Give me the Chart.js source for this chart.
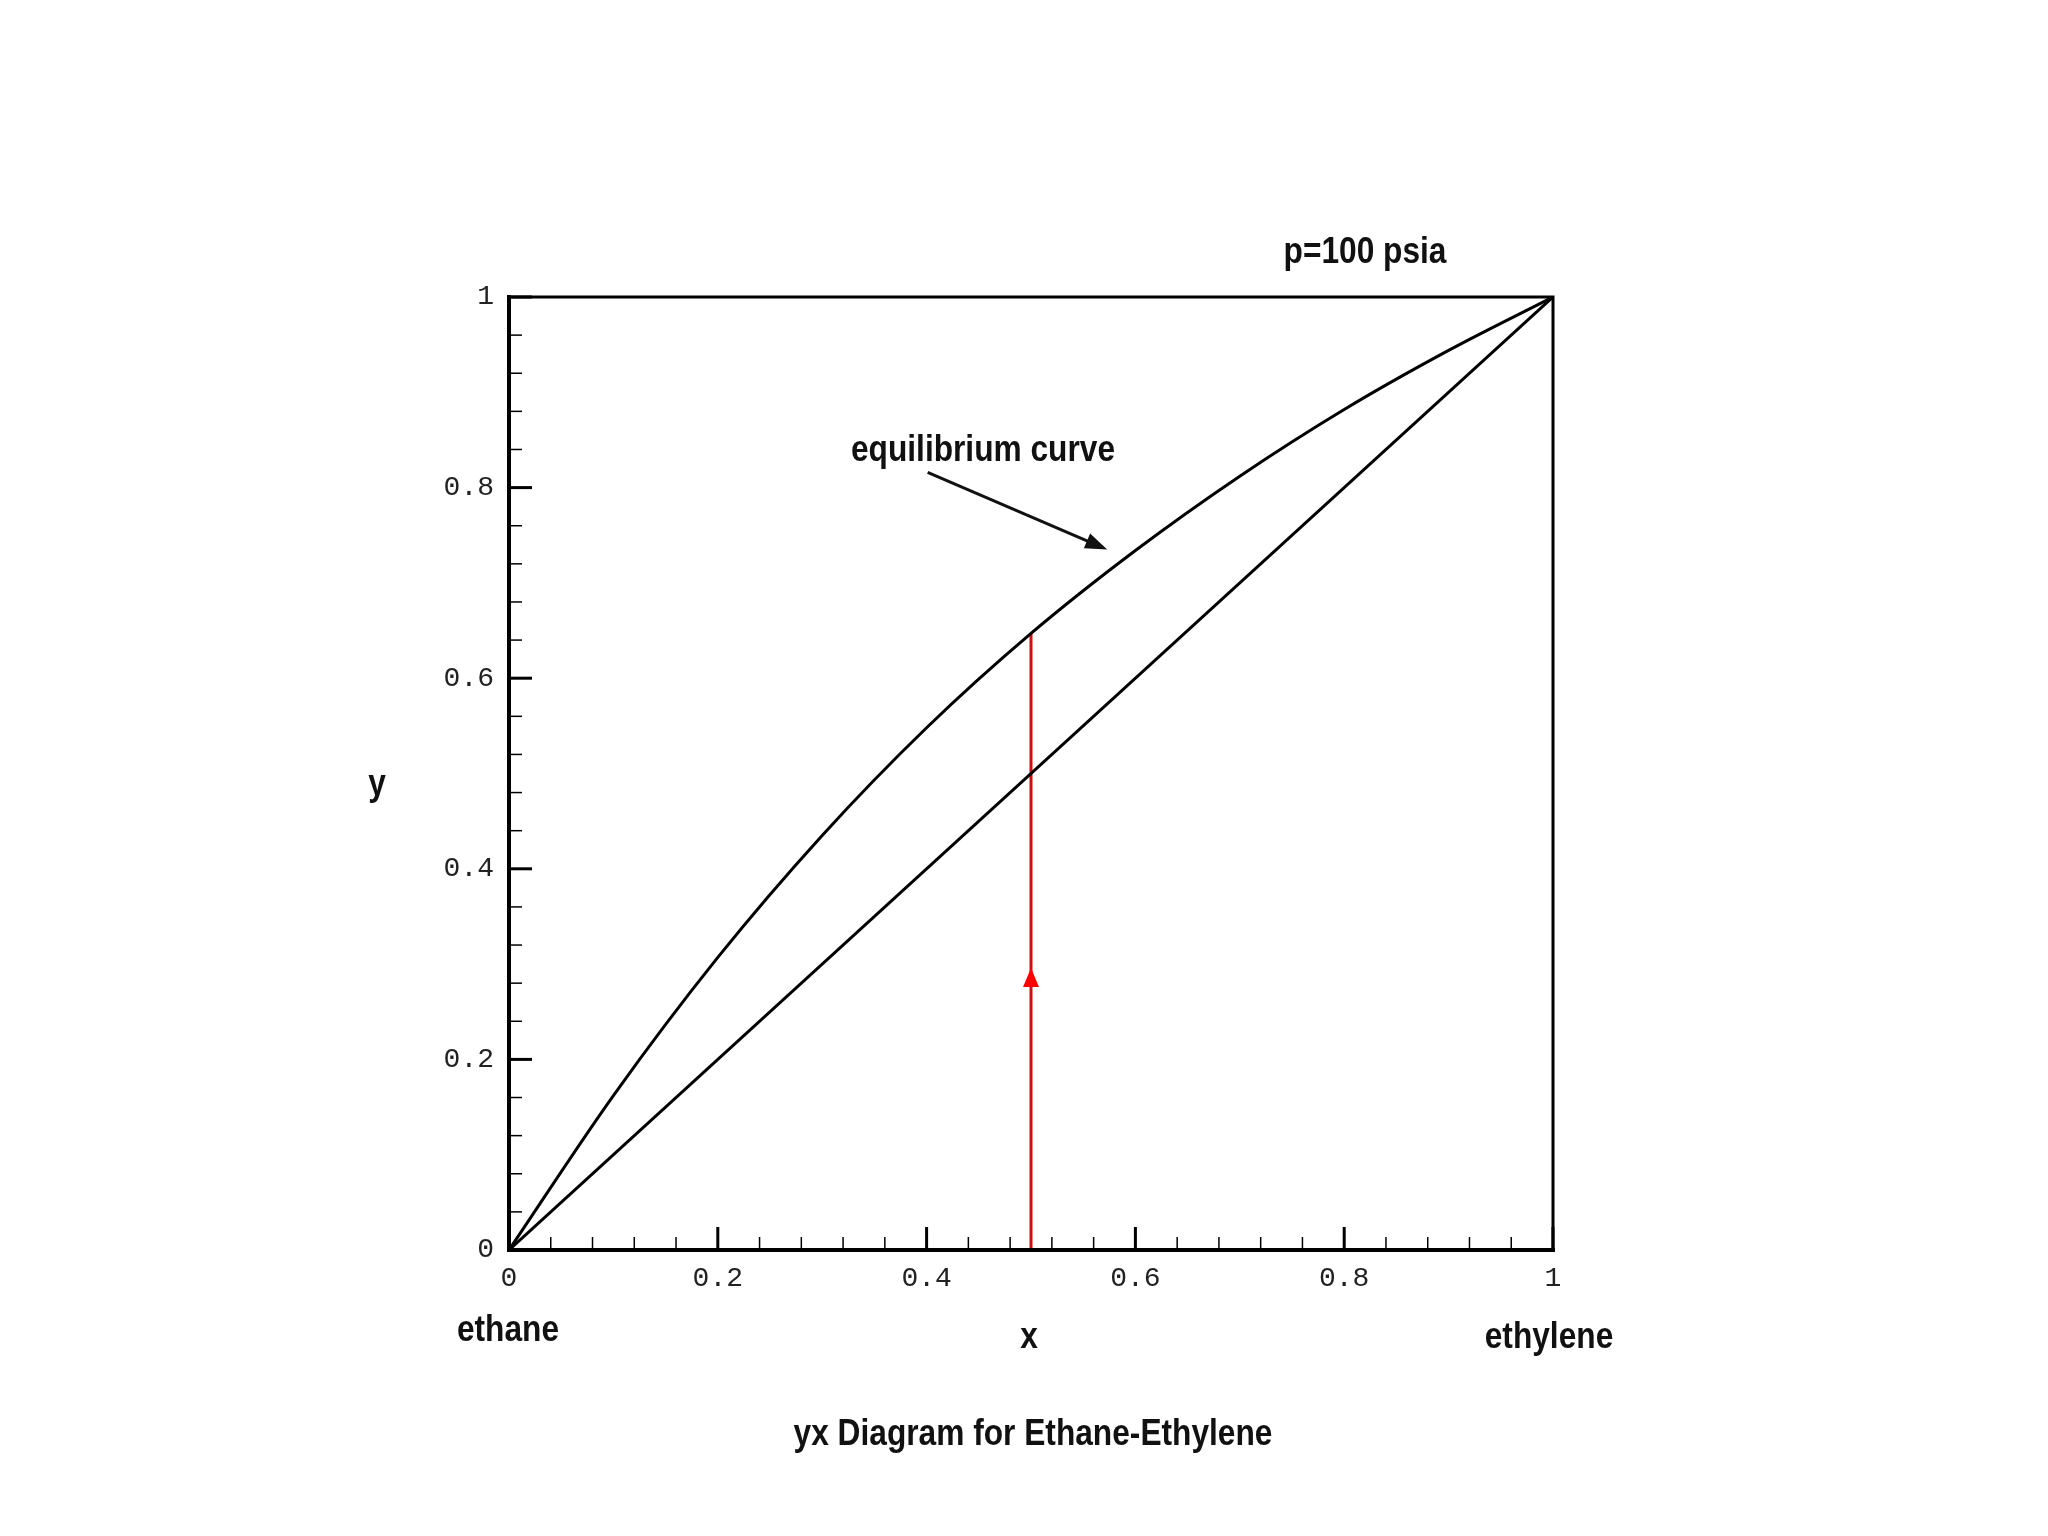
<!DOCTYPE html>
<html>
<head>
<meta charset="utf-8">
<script src="https://cdn.jsdelivr.net/npm/chart.js@4.4.1/dist/chart.umd.min.js"></script>
<style>
  html, body { margin: 0; padding: 0; background: #fff; }
</style>
</head>
<body>
<canvas id="yxChart" width="2048" height="1536"></canvas>
<script>
// equilibrium curve
const eqX = [0, 0.1, 0.2, 0.3, 0.4, 0.5, 0.6, 0.7, 0.8, 0.9, 1]
const eqY = [0, 0.162, 0.307, 0.435, 0.548, 0.647, 0.734, 0.812, 0.882, 0.944, 1]

// y = x line
const diagX = [0, 1]
const diagY = [0, 1]

// red feed line at x = 0.5
const feedX = [0.5, 0.5]
const feedY = [0, 0.647]
const feedArrowY = 0.296

// label arrow for the curve (value coords)
const noteFrom = [0.401, 0.816]
const noteTo = [0.573, 0.735]

const axisMin = 0
const axisMax = 1
const majorStep = 0.2
const minorStep = 0.04

function toPoints(xs, ys) {
    let pts = []
    for (let i = 0; i < xs.length; i++) {
        pts.push({ x: xs[i], y: ys[i] })
    }
    return pts
}

const Y_W = 100
const X_H = 60

const boldFont = 'bold 36px "Liberation Sans", Arial, sans-serif'

function drawNarrowText(ctx, text, x, y) {
    ctx.save()
    ctx.translate(x, y)
    ctx.scale(0.88, 1)
    ctx.font = boldFont
    ctx.fillStyle = '#111'
    ctx.textAlign = 'center'
    ctx.textBaseline = 'middle'
    ctx.fillText(text, 0, 0)
    ctx.restore()
}

function arrowHead(ctx, tipX, tipY, fromX, fromY, len, half, color) {
    let ang = Math.atan2(tipY - fromY, tipX - fromX)
    ctx.save()
    ctx.fillStyle = color
    ctx.beginPath()
    ctx.moveTo(tipX, tipY)
    ctx.lineTo(tipX - len * Math.cos(ang) + half * Math.sin(ang), tipY - len * Math.sin(ang) - half * Math.cos(ang))
    ctx.lineTo(tipX - len * Math.cos(ang) - half * Math.sin(ang), tipY - len * Math.sin(ang) + half * Math.cos(ang))
    ctx.closePath()
    ctx.fill()
    ctx.restore()
}

const framePlugin = {
    id: 'framePlugin',
    afterDraw(chart) {
        const ctx = chart.ctx
        const a = chart.chartArea
        const xs = chart.scales.x
        const ys = chart.scales.y

        ctx.save()
        ctx.strokeStyle = '#000'
        ctx.lineCap = 'square'
        // top & right
        ctx.lineWidth = 3
        ctx.beginPath()
        ctx.moveTo(a.left, a.top)
        ctx.lineTo(a.right, a.top)
        ctx.lineTo(a.right, a.bottom)
        ctx.stroke()
        // left & bottom
        ctx.lineWidth = 4
        ctx.beginPath()
        ctx.moveTo(a.left, a.top)
        ctx.lineTo(a.left, a.bottom)
        ctx.lineTo(a.right, a.bottom)
        ctx.stroke()

        // inward ticks
        ctx.lineCap = 'butt'
        let n = Math.round((axisMax - axisMin) / minorStep)
        for (let i = 0; i <= n; i++) {
            let v = axisMin + i * minorStep
            let major = (i % Math.round(majorStep / minorStep)) === 0
            let len = major ? 23 : 13
            ctx.lineWidth = major ? 3 : 1.5
            let px = xs.getPixelForValue(v)
            ctx.beginPath()
            ctx.moveTo(px, a.bottom)
            ctx.lineTo(px, a.bottom - len)
            ctx.stroke()
            let py = ys.getPixelForValue(v)
            ctx.beginPath()
            ctx.moveTo(a.left, py)
            ctx.lineTo(a.left + len, py)
            ctx.stroke()
        }

        // red arrowhead on the feed line
        let fx = xs.getPixelForValue(feedX[0])
        let fy = ys.getPixelForValue(feedArrowY)
        arrowHead(ctx, fx, fy, fx, fy + 20, 19, 8, '#ff0000')

        // annotation arrow
        let sx = xs.getPixelForValue(noteFrom[0])
        let sy = ys.getPixelForValue(noteFrom[1])
        let ex = xs.getPixelForValue(noteTo[0])
        let ey = ys.getPixelForValue(noteTo[1])
        let ang = Math.atan2(ey - sy, ex - sx)
        ctx.lineWidth = 3
        ctx.strokeStyle = '#111'
        ctx.beginPath()
        ctx.moveTo(sx, sy)
        ctx.lineTo(ex - 15 * Math.cos(ang), ey - 15 * Math.sin(ang))
        ctx.stroke()
        arrowHead(ctx, ex, ey, sx, sy, 22, 8, '#111')

        // texts
        drawNarrowText(ctx, 'p=100 psia', 1365, 253)
        drawNarrowText(ctx, 'equilibrium curve', 983, 451)
        drawNarrowText(ctx, 'y', 377, 785)
        drawNarrowText(ctx, 'ethane', 508, 1331)
        drawNarrowText(ctx, 'x', 1029, 1338)
        drawNarrowText(ctx, 'ethylene', 1549, 1338)
        drawNarrowText(ctx, 'yx Diagram for Ethane-Ethylene', 1033, 1435)
        ctx.restore()
    }
}

const tickFont = { family: '"Liberation Mono", "Courier New", monospace', size: 28 }

const config = {
    type: 'scatter',
    data: {
        datasets: [
            {
                label: 'equilibrium',
                data: toPoints(eqX, eqY),
                showLine: true,
                borderColor: '#000',
                borderWidth: 3,
                pointRadius: 0,
                cubicInterpolationMode: 'monotone'
            },
            {
                label: 'diagonal',
                data: toPoints(diagX, diagY),
                showLine: true,
                borderColor: '#000',
                borderWidth: 3,
                pointRadius: 0
            },
            {
                label: 'feed',
                data: toPoints(feedX, feedY),
                showLine: true,
                borderColor: '#cc1010',
                borderWidth: 3,
                pointRadius: 0
            }
        ]
    },
    options: {
        responsive: false,
        animation: false,
        devicePixelRatio: 1,
        layout: {
            padding: { left: 509 - Y_W, top: 297, right: 2048 - 1553, bottom: 1536 - 1250 - X_H }
        },
        plugins: {
            legend: { display: false },
            tooltip: { enabled: false }
        },
        scales: {
            x: {
                type: 'linear',
                min: axisMin,
                max: axisMax,
                grid: { display: false, drawTicks: false },
                border: { display: false },
                ticks: {
                    stepSize: majorStep,
                    autoSkip: false,
                    maxRotation: 0,
                    padding: 12,
                    color: '#222',
                    font: tickFont,
                    callback: (v) => String(Math.round(v * 10) / 10)
                },
                afterFit: (s) => { s.height = X_H }
            },
            y: {
                type: 'linear',
                min: axisMin,
                max: axisMax,
                grid: { display: false, drawTicks: false },
                border: { display: false },
                ticks: {
                    stepSize: majorStep,
                    autoSkip: false,
                    padding: 15,
                    color: '#222',
                    font: tickFont,
                    callback: (v) => String(Math.round(v * 10) / 10)
                },
                afterFit: (s) => { s.width = Y_W }
            }
        }
    },
    plugins: [framePlugin]
}

new Chart(document.getElementById('yxChart'), config)
</script>
</body>
</html>
